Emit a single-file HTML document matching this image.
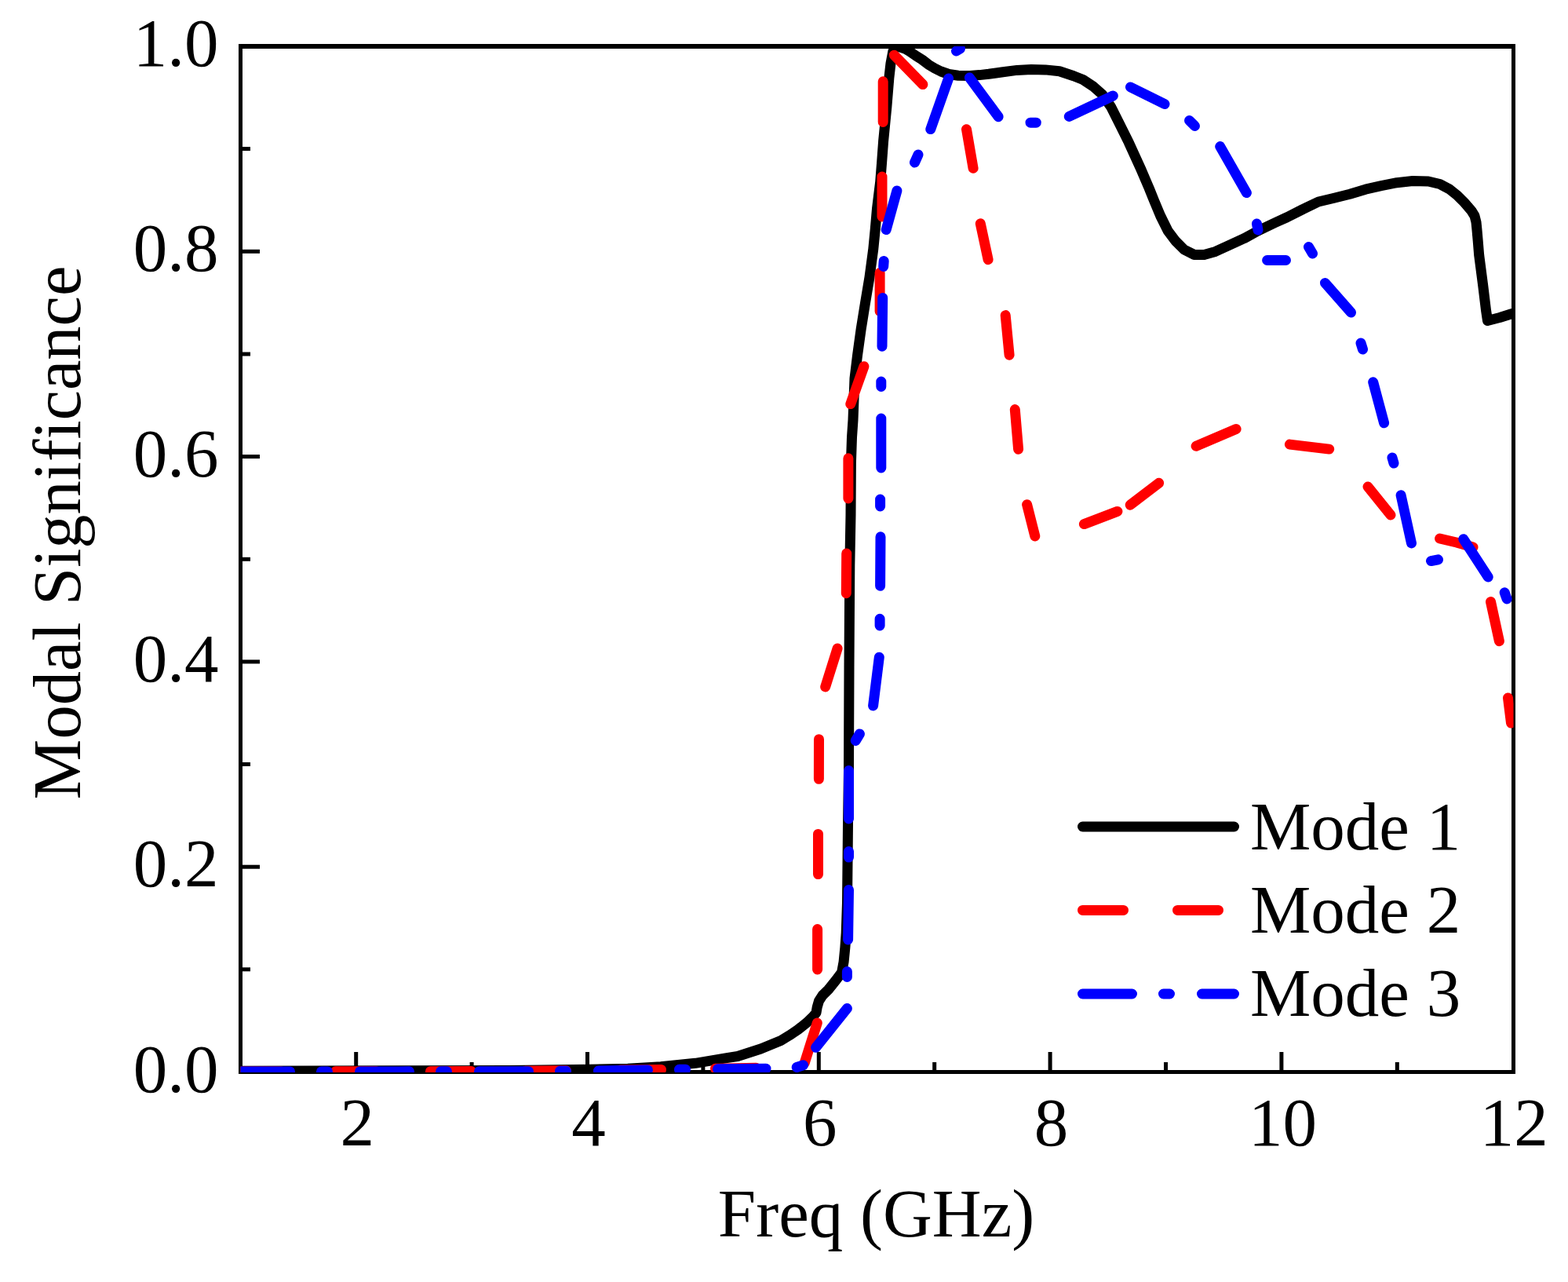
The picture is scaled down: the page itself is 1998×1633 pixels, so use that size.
<!DOCTYPE html>
<html><head><meta charset="utf-8"><title>Modal Significance</title>
<style>html,body{margin:0;padding:0;background:#fff;overflow:hidden;} svg{display:block;}</style></head>
<body>
<svg width="1998" height="1633" viewBox="0 0 1998 1633">
<rect x="0" y="0" width="1998" height="1633" fill="#fff"/>
<defs><clipPath id="pc"><rect x="306.5" y="59.0" width="1622.0" height="1307.0"/></clipPath></defs>

<g fill="#000">
<rect x="304" y="56" width="1627" height="6"/>
<rect x="304" y="1363" width="1627" height="5"/>
<rect x="304" y="56" width="5" height="1312"/>
<rect x="1926" y="56" width="5" height="1312"/>
<rect x="309" y="1232.3" width="10" height="5"/>
<rect x="309" y="1101.7" width="22" height="5"/>
<rect x="309" y="971.0" width="10" height="5"/>
<rect x="309" y="840.4" width="22" height="5"/>
<rect x="309" y="709.8" width="10" height="5"/>
<rect x="309" y="579.1" width="22" height="5"/>
<rect x="309" y="448.5" width="10" height="5"/>
<rect x="309" y="317.8" width="22" height="5"/>
<rect x="309" y="187.1" width="10" height="5"/>
<rect x="451.2" y="1340" width="5" height="23"/>
<rect x="598.6" y="1353" width="5" height="10"/>
<rect x="746.0" y="1340" width="5" height="23"/>
<rect x="893.4" y="1353" width="5" height="10"/>
<rect x="1040.8" y="1340" width="5" height="23"/>
<rect x="1188.2" y="1353" width="5" height="10"/>
<rect x="1335.6" y="1340" width="5" height="23"/>
<rect x="1483.0" y="1353" width="5" height="10"/>
<rect x="1630.4" y="1340" width="5" height="23"/>
<rect x="1777.8" y="1353" width="5" height="10"/>
</g>
<g clip-path="url(#pc)" fill="none" stroke-width="13" stroke-linecap="round" stroke-linejoin="round">
<polyline points="300.0,1364.3 650.0,1363.5 750.0,1362.3 800.0,1361.3 842.0,1358.8 886.0,1354.3 926.0,1347.6 940.0,1345.5 969.4,1336.0 995.0,1325.5 1006.0,1318.8 1017.0,1311.4 1028.0,1302.6 1036.0,1295.0 1040.0,1290.0 1041.2,1283.0 1043.5,1275.0 1048.0,1268.0 1055.5,1260.6 1065.3,1248.4 1072.6,1238.6 1075.1,1225.1 1076.9,1206.7 1078.2,1188.4 1079.5,1150.0 1080.5,1050.0 1081.5,980.0 1082.0,850.0 1082.8,720.0 1084.0,656.0 1084.4,590.0 1085.5,557.0 1087.0,535.0 1089.0,482.0 1092.6,452.2 1097.2,419.0 1102.5,386.0 1108.0,353.0 1112.8,317.2 1115.3,291.5 1117.5,265.8 1121.7,231.5 1123.7,205.7 1125.6,180.0 1129.9,135.8 1132.9,99.0 1135.0,80.6 1137.8,66.0 1141.0,58.0 1147.0,60.0 1153.0,62.0 1159.0,65.5 1167.0,71.0 1175.0,76.0 1183.0,82.2 1191.0,87.0 1199.0,91.0 1209.0,94.5 1221.0,96.3 1236.0,96.4 1248.0,95.6 1260.0,94.3 1278.0,91.7 1296.0,89.4 1314.0,88.4 1332.0,88.9 1350.0,90.8 1368.0,96.7 1380.0,101.5 1392.5,109.7 1404.7,120.4 1415.4,135.7 1426.2,157.2 1438.4,181.7 1453.7,215.3 1464.3,240.0 1470.7,255.9 1478.7,275.0 1488.2,294.1 1497.8,306.9 1508.9,318.0 1521.6,324.4 1534.4,324.4 1548.7,320.4 1564.6,313.2 1585.3,303.7 1602.8,294.1 1625.1,283.5 1640.0,276.8 1660.0,266.6 1680.0,257.0 1700.0,252.2 1720.0,247.2 1740.0,241.2 1760.0,236.7 1780.0,232.7 1800.0,230.5 1820.0,231.0 1834.7,234.5 1847.0,241.0 1857.0,249.0 1866.0,258.0 1875.0,268.5 1879.0,275.0 1881.0,283.0 1882.0,293.0 1883.2,306.8 1884.7,325.2 1889.8,364.3 1893.5,395.0 1895.5,408.5 1911.0,404.5 1926.0,399.8 1935.0,397.3" stroke="#000"/>
<polyline points="306.5,1365.0 650.0,1364.5 760.0,1363.5 850.0,1362.3 963.5,1360.3" stroke="#f00" stroke-dasharray="52 69"/>
<path d="M1025.2,1354.0 L1041.3,1303.0 M1041.6,1235.0 L1041.6,1183.5 M1042.5,1113.6 L1042.5,1062.4 M1043.4,992.3 L1043.5,941.7 M1051.7,874.9 L1067.1,826.0 M1078.3,755.7 L1078.7,705.0 M1080.9,635.0 L1080.9,583.8 M1083.8,514.6 L1100.9,466.7 M1121.1,396.4 L1121.1,347.5 M1124.0,276.0 L1124.0,225.0 M1125.2,155.5 L1125.2,103.8 M1139.4,70.2 L1175.9,107.6 M1231.5,164.7 L1240.1,214.3 M1249.3,284.8 L1259.1,330.7 M1281.2,401.6 L1286.1,452.2 M1293.3,521.6 L1297.6,572.2 M1308.6,642.7 L1318.8,682.9 M1381.4,667.6 L1423.9,651.4 M1440.2,643.2 L1476.6,615.3 M1524.1,568.3 L1575.1,546.5 M1643.4,566.1 L1693.7,572.1 M1743.0,620.0 L1772.0,656.0 M1834.6,686.0 L1856.0,691.0 L1877.0,697.0 M1899.5,766.5 L1910.4,816.7 M1921.5,889.0 L1925.5,921.0" stroke="#f00"/>
<polyline points="306.5,1365.0 650.0,1364.8 760.0,1364.0 850.0,1362.5 976.0,1361.2" stroke="#00f" stroke-dasharray="63 40 8 41"/>
<path d="M1015.2,1359.5 L1023.5,1356.8 M1039.6,1334.3 L1079.4,1284.5 M1079.4,1244.5 L1079.4,1237.5 M1080.6,1196.9 L1081.5,1133.5 M1081.5,1092.1 L1081.5,1084.6 M1081.5,1043.0 L1081.5,981.5 M1090.3,943.4 L1095.4,934.9 M1112.6,898.9 L1120.3,837.2 M1121.1,796.9 L1121.1,788.3 M1121.6,746.3 L1122.0,683.8 M1121.6,645.0 L1121.6,636.0 M1122.8,596.0 L1122.8,533.0 M1122.8,492.4 L1122.8,486.0 M1124.0,441.2 L1124.7,379.4 M1125.7,339.6 L1126.2,332.5 M1129.2,292.6 L1142.9,242.9 M1165.5,207.0 L1170.0,197.0 M1185.8,164.6 L1208.6,100.0 M1218.5,65.0 L1223.5,62.0 M1235.4,99.0 L1272.1,148.7 M1313.0,156.2 L1320.3,156.2 M1362.3,148.4 L1418.3,122.0 M1440.5,111.0 L1484.0,132.5 M1515.5,153.5 L1522.5,160.5 M1554.7,186.6 L1588.4,245.6 M1601.5,285.0 L1603.0,293.0 M1614.6,331.5 L1638.5,331.5 M1667.5,314.5 L1672.5,323.0 M1688.5,360.5 L1721.5,398.0 M1734.0,437.0 L1736.5,445.0 M1749.7,486.8 L1763.6,538.8 M1774.0,583.0 L1776.0,590.0 M1785.1,630.8 L1798.5,691.9 M1823.5,714.6 L1832.5,712.8 M1864.8,686.7 L1896.2,735.0 M1917.2,754.8 L1920.1,762.9" stroke="#00f"/>
</g>
<text x="278.5" y="1390.5" text-anchor="end" style="font-family:'Liberation Serif','Times New Roman',serif;font-size:87px">0.0</text>
<text x="278.5" y="1129.2" text-anchor="end" style="font-family:'Liberation Serif','Times New Roman',serif;font-size:87px">0.2</text>
<text x="278.5" y="867.9" text-anchor="end" style="font-family:'Liberation Serif','Times New Roman',serif;font-size:87px">0.4</text>
<text x="278.5" y="606.6" text-anchor="end" style="font-family:'Liberation Serif','Times New Roman',serif;font-size:87px">0.6</text>
<text x="278.5" y="345.3" text-anchor="end" style="font-family:'Liberation Serif','Times New Roman',serif;font-size:87px">0.8</text>
<text x="278.5" y="84.0" text-anchor="end" style="font-family:'Liberation Serif','Times New Roman',serif;font-size:87px">1.0</text>
<text x="455.2" y="1459" text-anchor="middle" style="font-family:'Liberation Serif','Times New Roman',serif;font-size:87px">2</text>
<text x="750.0" y="1459" text-anchor="middle" style="font-family:'Liberation Serif','Times New Roman',serif;font-size:87px">4</text>
<text x="1044.8" y="1459" text-anchor="middle" style="font-family:'Liberation Serif','Times New Roman',serif;font-size:87px">6</text>
<text x="1339.6" y="1459" text-anchor="middle" style="font-family:'Liberation Serif','Times New Roman',serif;font-size:87px">8</text>
<text x="1634.4" y="1459" text-anchor="middle" style="font-family:'Liberation Serif','Times New Roman',serif;font-size:87px">10</text>
<text x="1929.2" y="1459" text-anchor="middle" style="font-family:'Liberation Serif','Times New Roman',serif;font-size:87px">12</text>
<text x="1116.5" y="1575" text-anchor="middle" style="font-family:'Liberation Serif','Times New Roman',serif;font-size:87px">Freq (GHz)</text>
<text transform="translate(102,678.5) rotate(-90)" x="0" y="0" text-anchor="middle" style="font-family:'Liberation Serif','Times New Roman',serif;font-size:86.5px">Modal Significance</text>
<line x1="1379.5" y1="1053" x2="1572.5" y2="1053" stroke="#000" stroke-width="13" stroke-linecap="round"/>
<text x="1593" y="1081.6" style="font-family:'Liberation Serif','Times New Roman',serif;font-size:87px">Mode 1</text>
<line x1="1379.5" y1="1159.4" x2="1572.5" y2="1159.4" stroke="#f00" stroke-width="13" stroke-linecap="round" stroke-dasharray="52 69"/>
<text x="1593" y="1188.3" style="font-family:'Liberation Serif','Times New Roman',serif;font-size:87px">Mode 2</text>
<line x1="1379.5" y1="1266" x2="1572.5" y2="1266" stroke="#00f" stroke-width="13" stroke-linecap="round" stroke-dasharray="63 40 8 41"/>
<text x="1593" y="1293.7" style="font-family:'Liberation Serif','Times New Roman',serif;font-size:87px">Mode 3</text>
</svg>
</body></html>
